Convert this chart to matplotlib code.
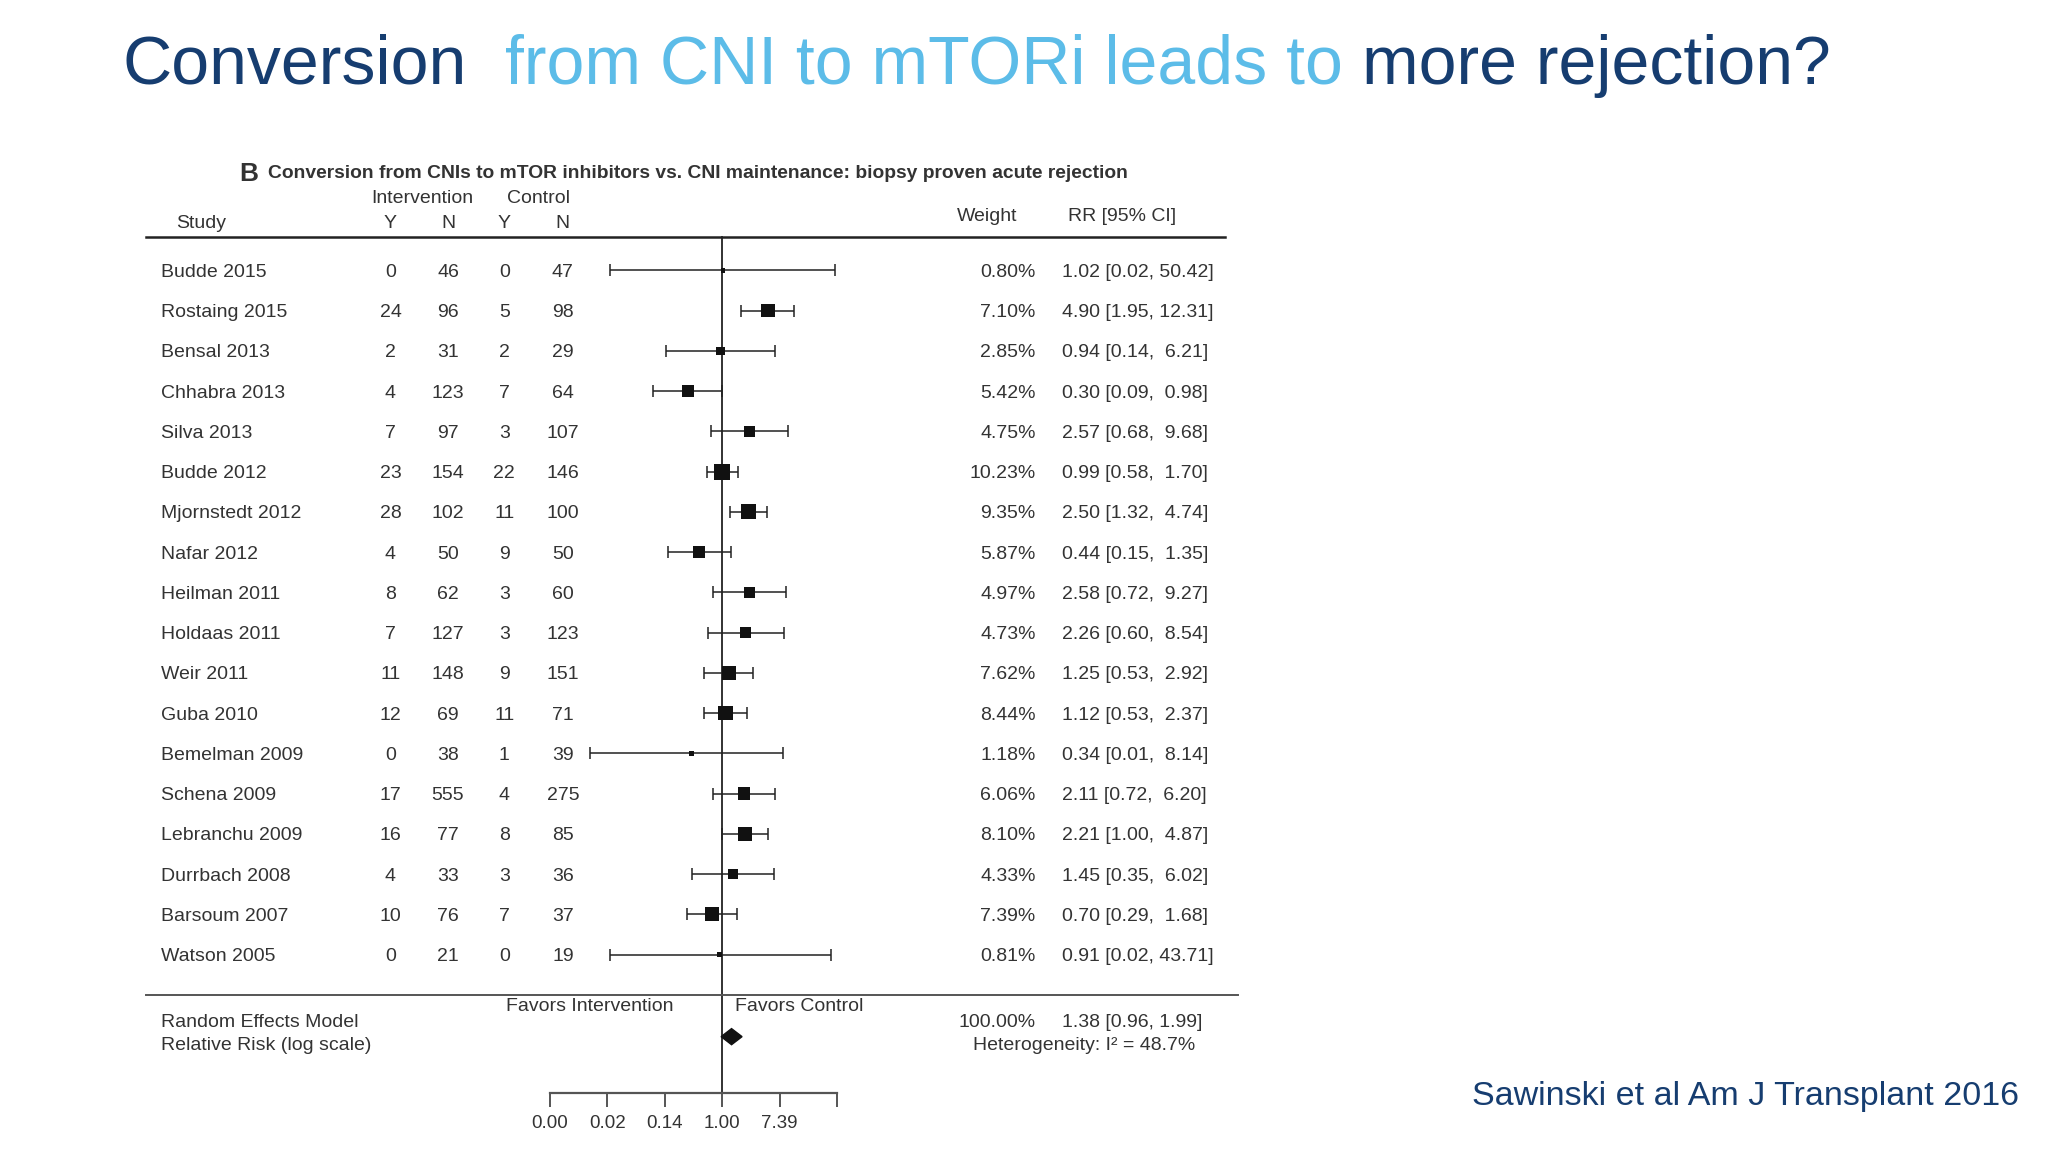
import numpy as np
import matplotlib
matplotlib.use("Agg")
import matplotlib.pyplot as plt
from matplotlib import font_manager

# --- data ---
studies = ["Budde 2015", "Rostaing 2015", "Bensal 2013", "Chhabra 2013", "Silva 2013",
           "Budde 2012", "Mjornstedt 2012", "Nafar 2012", "Heilman 2011", "Holdaas 2011",
           "Weir 2011", "Guba 2010", "Bemelman 2009", "Schena 2009", "Lebranchu 2009",
           "Durrbach 2008", "Barsoum 2007", "Watson 2005"]
int_y = [0, 24, 2, 4, 7, 23, 28, 4, 8, 7, 11, 12, 0, 17, 16, 4, 10, 0]
int_n = [46, 96, 31, 123, 97, 154, 102, 50, 62, 127, 148, 69, 38, 555, 77, 33, 76, 21]
ctl_y = [0, 5, 2, 7, 3, 22, 11, 9, 3, 3, 9, 11, 1, 4, 8, 3, 7, 0]
ctl_n = [47, 98, 29, 64, 107, 146, 100, 50, 60, 123, 151, 71, 39, 275, 85, 36, 37, 19]
weights = [0.80, 7.10, 2.85, 5.42, 4.75, 10.23, 9.35, 5.87, 4.97, 4.73, 7.62, 8.44,
           1.18, 6.06, 8.10, 4.33, 7.39, 0.81]
rr = [1.02, 4.90, 0.94, 0.30, 2.57, 0.99, 2.50, 0.44, 2.58, 2.26, 1.25, 1.12,
      0.34, 2.11, 2.21, 1.45, 0.70, 0.91]
ci_lo = [0.02, 1.95, 0.14, 0.09, 0.68, 0.58, 1.32, 0.15, 0.72, 0.60, 0.53, 0.53,
         0.01, 0.72, 1.00, 0.35, 0.29, 0.02]
ci_hi = [50.42, 12.31, 6.21, 0.98, 9.68, 1.70, 4.74, 1.35, 9.27, 8.54, 2.92, 2.37,
         8.14, 6.20, 4.87, 6.02, 1.68, 43.71]
pooled = (1.38, 0.96, 1.99)
heterogeneity = 48.7
tick_labels = ["0.00", "0.02", "0.14", "1.00", "7.39", ""]

NAVY = "#163d70"
LIGHT = "#5cbce8"
TXT = "#333333"
LN = "#222222"


def has_font(name):
    try:
        font_manager.findfont(name, fallback_to_default=False)
        return True
    except ValueError:
        return False


narrow = has_font("Liberation Sans Narrow")
plt.rcParams['font.family'] = ['Liberation Sans', 'DejaVu Sans']
tbl_family = ['Liberation Sans Narrow', 'Liberation Sans', 'DejaVu Sans'] if narrow else ['Liberation Sans', 'DejaVu Sans']
fs = 16.5 if narrow else 14
fs_head = 17 if narrow else 13.9

fig = plt.figure(figsize=(20.48, 11.52), dpi=100)
fig.patch.set_facecolor("white")

# --- slide title in three colours ---
renderer = fig.canvas.get_renderer()
pieces = [("Conversion ", NAVY), ("from CNI to mTORi leads to", LIGHT), ("more rejection?", NAVY)]
x0, ybase = 123, 1152 - 84
tfs = 49
probe1 = fig.text(0, 0, "x x", fontsize=tfs)
probe2 = fig.text(0, 0, "xx", fontsize=tfs)
space_w = probe1.get_window_extent(renderer).width - probe2.get_window_extent(renderer).width
probe1.remove(); probe2.remove()
x = x0
for txt, col in pieces:
    t = fig.text(x / 2048, ybase / 1152, txt.strip(), fontsize=tfs, color=col,
                 ha="left", va="baseline")
    w = t.get_window_extent(renderer).width
    x += w + space_w * (2 if txt.endswith(" ") else 1)

fig.text(0.986, 1 - 1105 / 1152, "Sawinski et al Am J Transplant 2016", fontsize=24.5,
         color=NAVY, ha="right", va="baseline")

# --- forest plot ---
ax = fig.add_axes([140 / 2048, 1 - 1093 / 1152, 1110 / 2048, (1093 - 150) / 1152])
ax.set_xlim(-20.27, 18.37)
ax.set_ylim(20.44, -2.99)
for s in ["left", "top", "right"]:
    ax.spines[s].set_visible(False)
ax.spines["bottom"].set_bounds(-6, 4)
ax.spines["bottom"].set_color("#555555")
ax.spines["bottom"].set_linewidth(1.6)
ax.set_yticks([])
ax.set_xticks(np.arange(-6, 5, 2))
ax.set_xticklabels(tick_labels, family=tbl_family, fontsize=fs - 0.5, color=TXT)
ax.tick_params(axis="x", direction="out", length=10, width=1.4, color="#555555", pad=6)

rows = np.arange(len(studies))
lrr = np.log(rr)
llo = np.log(ci_lo)
lhi = np.log(ci_hi)

ax.errorbar(lrr, rows, xerr=[lrr - llo, lhi - lrr], fmt="none", ecolor=LN,
            elinewidth=1.1, capsize=4.5, capthick=1.1, zorder=3)
ax.scatter(lrr, rows, s=np.array(weights) * 13, marker="s", color="#111111", zorder=4, linewidths=0)

# reference line and rules
ax.plot([0, 0], [-0.84, 20.44], color=LN, lw=1.3, clip_on=False, zorder=2)
ax.plot([-20.05, 17.5], [-0.84, -0.84], color=LN, lw=1.8, clip_on=False)
ax.plot([-20.05, 17.95], [18.01, 18.01], color="#555555", lw=1.4, clip_on=False)

# pooled diamond
est, lo, hi = np.log(pooled)
yd = 19.04
ax.fill([lo, est, hi, est], [yd, yd - 0.2, yd, yd + 0.2], color="#111111", zorder=4)

tk = dict(family=tbl_family, fontsize=fs, color=TXT, va="center")
# headers
ax.text(-16.82, -2.40, "B", fontsize=fs_head + 5, fontweight="bold", family=tbl_family,
        color=TXT, va="center", ha="left")
ax.text(-15.82, -2.40, "Conversion from CNIs to mTOR inhibitors vs. CNI maintenance: biopsy proven acute rejection",
        fontsize=fs_head, fontweight="bold", family=tbl_family, color=TXT, va="center", ha="left")
ax.text(-10.45, -1.78, "Intervention", ha="center", **tk)
ax.text(-6.41, -1.78, "Control", ha="center", **tk)
ax.text(-19.0, -1.17, "Study", ha="left", **tk)
for xc, lab in zip([-11.55, -9.55, -7.59, -5.55], ["Y", "N", "Y", "N"]):
    ax.text(xc, -1.17, lab, ha="center", **tk)
ax.text(9.23, -1.33, "Weight", ha="center", **tk)
ax.text(13.9, -1.33, "RR [95% CI]", ha="center", **tk)

# table rows
for i in rows:
    ax.text(-19.55, i + 0.05, studies[i], ha="left", **tk)
    ax.text(-11.55, i + 0.05, str(int_y[i]), ha="center", **tk)
    ax.text(-9.55, i + 0.05, str(int_n[i]), ha="center", **tk)
    ax.text(-7.59, i + 0.05, str(ctl_y[i]), ha="center", **tk)
    ax.text(-5.55, i + 0.05, str(ctl_n[i]), ha="center", **tk)
    ax.text(10.91, i + 0.05, f"{weights[i]:.2f}%", ha="right", **tk)
    ax.text(11.82, i + 0.05, f"{rr[i]:.2f} [{ci_lo[i]:.2f}, {ci_hi[i]:5.2f}]", ha="left", **tk)

# summary
ax.text(-1.7, 18.30, "Favors Intervention", ha="right", **tk)
ax.text(0.44, 18.30, "Favors Control", ha="left", **tk)
ax.text(-19.55, 18.69, "Random Effects Model", ha="left", **tk)
ax.text(-19.55, 19.27, "Relative Risk (log scale)", ha="left", **tk)
ax.text(10.91, 18.69, "100.00%", ha="right", **tk)
ax.text(11.82, 18.69, f"{pooled[0]:.2f} [{pooled[1]:.2f}, {pooled[2]:.2f}]", ha="left", **tk)
ax.text(12.6, 19.27, f"Heterogeneity: I\u00b2 = {heterogeneity}%", ha="center", **tk)

fig.savefig("out.png", dpi=100, facecolor="white")
